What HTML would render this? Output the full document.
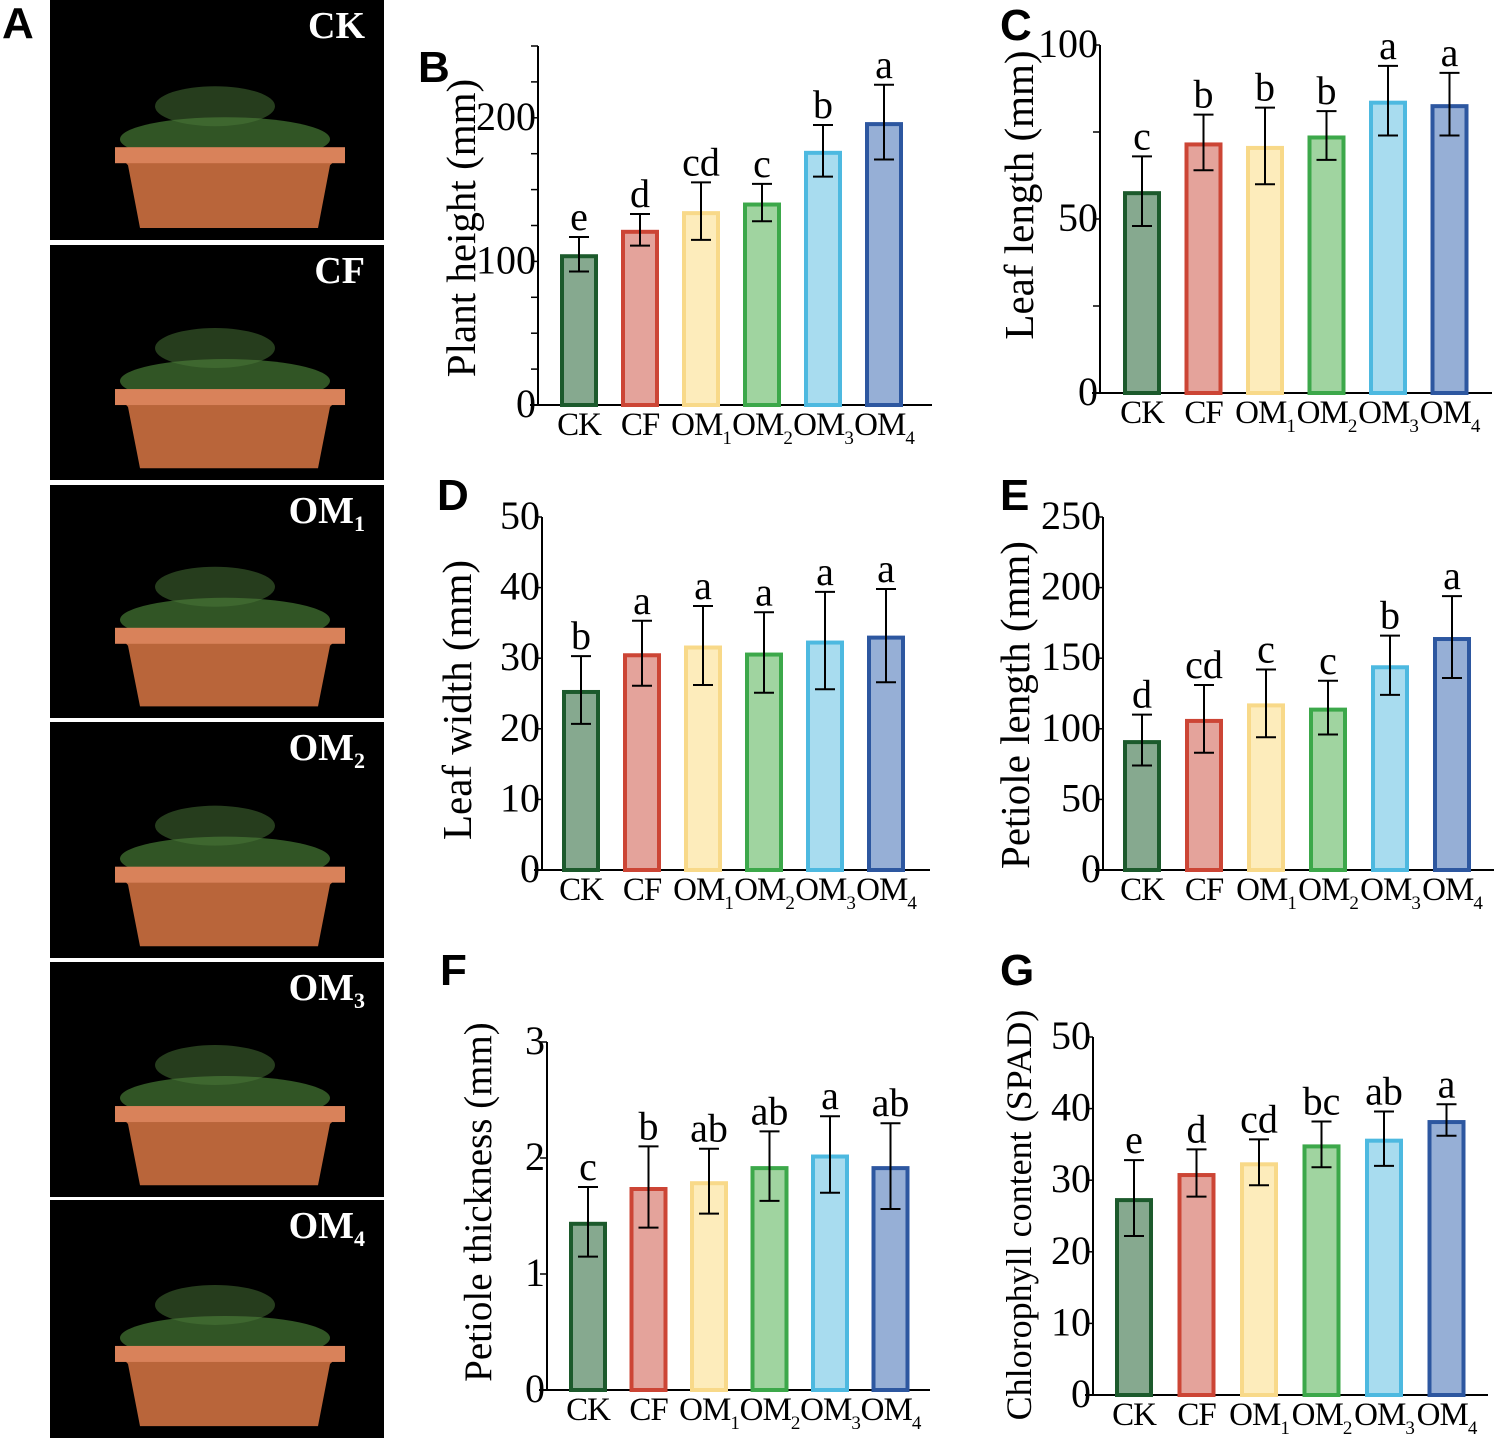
<!DOCTYPE html>
<html><head><meta charset="utf-8">
<style>
html,body{margin:0;padding:0;background:#fff;}
svg{display:block;}
text{font-family:"Liberation Serif",serif;}
.pl{font-family:"Liberation Sans",sans-serif;font-weight:bold;font-size:44px;}
</style></head>
<body>
<svg id="fig" width="1499" height="1440" viewBox="0 0 1499 1440" xmlns="http://www.w3.org/2000/svg">
<g id="photos"></g>
<g id="charts"></g>
<text class="pl" x="2" y="38">A</text>
<text class="pl" x="418" y="82">B</text>
<text class="pl" x="1000" y="40">C</text>
<text class="pl" x="437" y="510">D</text>
<text class="pl" x="1000" y="510">E</text>
<text class="pl" x="440" y="985">F</text>
<text class="pl" x="1000" y="985">G</text>
</svg>
<script>
const categories = ["CK","CF","OM1","OM2","OM3","OM4"];
const plantHeight = [105,122,135,141,177,197];
const plantHeightErr = [12,11,20,13,18,26];
const plantHeightSig = ["e","d","cd","c","b","a"];
const leafLength = [58,72,71,74,84,83];
const leafLengthErr = [10,8,11,7,10,9];
const leafLengthSig = ["c","b","b","b","a","a"];
const leafWidth = [25.5,30.7,31.8,30.8,32.5,33.2];
const leafWidthErr = [4.8,4.6,5.6,5.7,6.9,6.6];
const leafWidthSig = ["b","a","a","a","a","a"];
const petioleLength = [92,107,118,115,145,165];
const petioleLengthErr = [18,24,24,19,21,29];
const petioleLengthSig = ["d","cd","c","c","b","a"];
const petioleThick = [1.45,1.75,1.80,1.93,2.03,1.93];
const petioleThickErr = [0.3,0.35,0.28,0.3,0.33,0.37];
const petioleThickSig = ["c","b","ab","ab","a","ab"];
const chlorophyll = [27.5,31,32.5,35,35.8,38.4];
const chlorophyllErr = [5.3,3.3,3.2,3.2,3.8,2.2];
const chlorophyllSig = ["e","d","cd","bc","ab","a"];
const ticksB = [0,100,200], ticksC=[0,50,100], ticksD=[0,10,20,30,40,50], ticksE=[0,50,100,150,200,250], ticksF=[0,1,2,3], ticksG=[0,10,20,30,40,50];

const fills=["#86a98f","#e4a39b","#fdecbb","#a0d4a0","#a8dcef","#96afd6"];
const strokes=["#1c5a2c","#cc4535","#f8d989","#3ca84a","#4db9e0","#2d57a0"];
const NS="http://www.w3.org/2000/svg";
function mk(tag,attrs,parent){const e=document.createElementNS(NS,tag);for(const k in attrs)e.setAttribute(k,attrs[k]);parent.appendChild(e);return e;}

const charts=[
 {id:"b",vals:plantHeight,err:plantHeightErr,sig:plantHeightSig,ticks:ticksB,minor:25,max:250,ax:538,y0:405,yTop:46,x0:560,step:61,xEnd:932,title:"Plant height (mm)",tfs:41,tx:462,ty:228},
 {id:"c",vals:leafLength,err:leafLengthErr,sig:leafLengthSig,ticks:ticksC,minor:25,max:100,ax:1100,y0:393,yTop:45,x0:1123,step:61.5,xEnd:1492,title:"Leaf length (mm)",tfs:41,tx:1020,ty:195},
 {id:"d",vals:leafWidth,err:leafWidthErr,sig:leafWidthSig,ticks:ticksD,minor:10,max:50,ax:542,y0:870,yTop:517,x0:562,step:61,xEnd:930,title:"Leaf width (mm)",tfs:41,tx:458,ty:700},
 {id:"e",vals:petioleLength,err:petioleLengthErr,sig:petioleLengthSig,ticks:ticksE,minor:50,max:250,ax:1103,y0:870,yTop:517,x0:1123,step:62,xEnd:1494,title:"Petiole length (mm)",tfs:41,tx:1016,ty:705},
 {id:"f",vals:petioleThick,err:petioleThickErr,sig:petioleThickSig,ticks:ticksF,minor:1,max:3,ax:547,y0:1390,yTop:1042,x0:569,step:60.5,xEnd:930,title:"Petiole thickness (mm)",tfs:39,tx:478,ty:1202},
 {id:"g",vals:chlorophyll,err:chlorophyllErr,sig:chlorophyllSig,ticks:ticksG,minor:10,max:50,ax:1093,y0:1395,yTop:1037,x0:1115,step:62.5,xEnd:1488,title:"Chlorophyll content (SPAD)",tfs:36,tx:1018,ty:1215}
];
const root=document.getElementById("charts");
charts.forEach(c=>{
 const g=mk("g",{},root);
 
 
 const y=v=>c.y0-(v/c.max)*(c.y0-c.yTop);
 const bw=38;
 const ax=mk("line",{x1:c.ax,y1:c.yTop,x2:c.ax,y2:c.y0,stroke:"#000","stroke-width":2},g);
 
 
 const xa=mk("line",{x1:c.ax-8,y1:c.y0,x2:c.xEnd,y2:c.y0,stroke:"#000","stroke-width":2},g);
 
 
 for(let v=0;v<=c.max+1e-9;v+=c.minor){mk("line",{x1:c.ax-7,y1:y(v),x2:c.ax,y2:y(v),stroke:"#000","stroke-width":1.5},g);}
 c.ticks.forEach(t=>{
  const tl=mk("text",{x:c.ax-2,y:y(t)+12,"text-anchor":"end","font-size":40},g);
  tl.textContent=t;
  
  
 });
 const tt=mk("text",{x:c.tx,y:c.ty,"text-anchor":"middle","font-size":c.tfs,transform:`rotate(-90 ${c.tx} ${c.ty})`,dy:13},g);
 tt.textContent=c.title;
 
 
 categories.forEach((cat,i)=>{
  const cx=c.x0+bw/2+i*c.step, v=c.vals[i], e=c.err[i];
  const r=mk("rect",{x:cx-bw/2+2,y:y(v)+2,width:bw-4,height:c.y0-y(v)-2,fill:fills[i],stroke:strokes[i],"stroke-width":4},g);
  
  
  const eb=mk("path",{d:`M${cx-10},${y(v+e)}H${cx+10}M${cx},${y(v+e)}V${y(v-e)}M${cx-10},${y(v-e)}H${cx+10}`,stroke:"#000","stroke-width":2,fill:"none"},g);
  
  
  const s=mk("text",{x:cx,y:y(v+e)-7,"text-anchor":"middle","font-size":40},g);
  s.textContent=c.sig[i];
  
  
  const xl=mk("text",{x:cx,y:c.y0+30,"text-anchor":"middle","font-size":33,"letter-spacing":"-1"},g);
  if(cat.startsWith("OM")){xl.innerHTML=`OM<tspan font-size="19" dy="9">${cat.slice(2)}</tspan>`;}else xl.textContent=cat;
  
  
 });
});

// photo panel
const photoLabels=["CK","CF","OM1","OM2","OM3","OM4"];
const photoY=[[0,240],[245,480],[485,718],[722,958],[962,1197],[1200,1438]];
const ph=document.getElementById("photos");
photoY.forEach((p,i)=>{
 const g=mk("g",{},ph);
 
 
 mk("rect",{x:50,y:p[0],width:334,height:p[1]-p[0],fill:"#000"},g);
 const h=p[1]-p[0], by=p[0]+h*0.63;
 mk("ellipse",{cx:225,cy:by-12,rx:105,ry:22,fill:"#3d6a2e",opacity:0.8},g);
 mk("ellipse",{cx:215,cy:by-45,rx:60,ry:20,fill:"#4c7a3a",opacity:0.5},g);
 mk("path",{d:`M115,${by}H345L330,${by+14}L318,${by+h*0.32}H140L128,${by+14}Z`,fill:"#b9653a"},g);
 mk("rect",{x:115,y:by-4,width:230,height:16,fill:"#d9825a"},g);
 const t=mk("text",{x:365,y:p[0]+38,"text-anchor":"end","font-size":38,"font-weight":"bold",fill:"#fff"},g);
 const l=photoLabels[i];
 if(l.startsWith("OM")) t.innerHTML=`OM<tspan font-size="22" dy="8">${l.slice(2)}</tspan>`; else t.textContent=l;
 
 
});
</script>
</body></html>
